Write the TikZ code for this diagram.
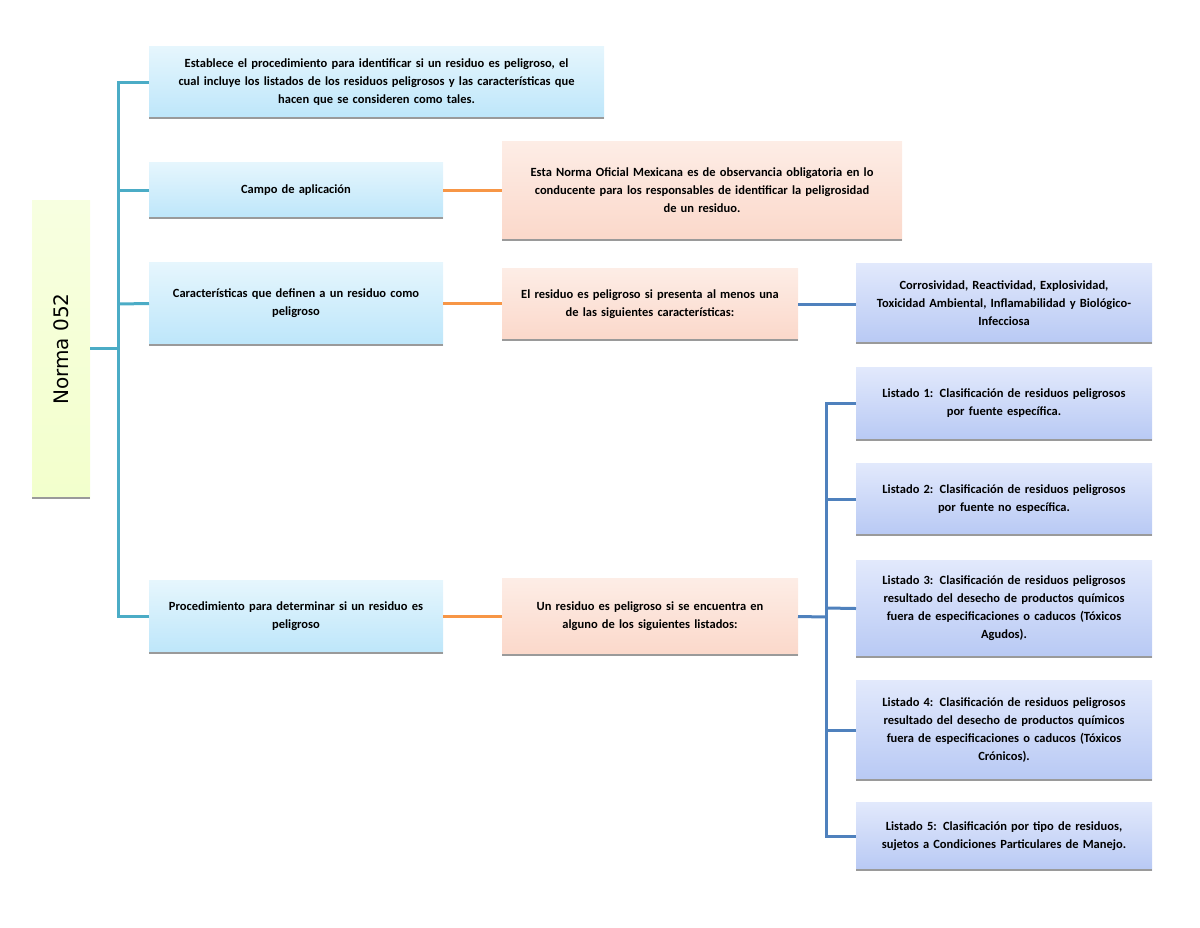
\documentclass[tikz,border=0pt]{standalone}
\usepackage{fontspec}
\setmainfont{Carlito}
\newfontfamily\normafont{DejaVu Sans}
\begin{document}
\begin{tikzpicture}[x=1pt,y=-1pt,
  bx/.style={draw=none,minimum width=#1,inner sep=0pt,align=center,font=\bfseries\fontsize{12.5}{18}\selectfont},
  lb/.style={top color=lbT,bottom color=lbB},
  ob/.style={top color=obT,bottom color=obB},
  pb/.style={top color=pbT,bottom color=pbB},
  teal/.style={draw=tealC,line width=3pt},
  orn/.style={draw=ornC,line width=3pt},
  blu/.style={draw=bluC,line width=3pt}]
\definecolor{lbT}{HTML}{E6F6FD}\definecolor{lbB}{HTML}{BDE6FA}
\definecolor{obT}{HTML}{FDEDE6}\definecolor{obB}{HTML}{FBD8CA}
\definecolor{pbT}{HTML}{E2E9FC}\definecolor{pbB}{HTML}{B8C9F4}
\definecolor{tealC}{HTML}{4BACC6}\definecolor{ornC}{HTML}{F79646}\definecolor{bluC}{HTML}{4F81BD}
\definecolor{shd}{HTML}{9A9A9A}
\useasboundingbox (0,0) rectangle (1200,927);
\newcommand{\bxx}[7]{% name,x1,y1,x2,y2,style,text
  \shade[#6] (#2,#3) rectangle (#4,#5);
  \draw[shd,line width=2.5pt] (#2,#5) -- (#4,#5);
  \node[bx=1pt,text width={#4-#2-6}] (#1) at ({(#2+#4)/2},{(#3+#5)/2}) {#7};
  \coordinate (#1-w) at (#2,{(#3+#5)/2});
  \coordinate (#1-e) at (#4,{(#3+#5)/2});
}
% Norma
\shade[top color=lime!12!white,bottom color=lime!20!white] (32,200) rectangle (90,498);
\draw[shd,line width=2pt] (32,498) -- (90,498);
\node[rotate=90,font=\normafont\fontsize{20}{24}\selectfont] (norma) at (61,349) {Norma 052};
\coordinate (norma-e) at (90,348);
\bxx{b1}{149}{46}{604}{118}{lb}{Establece el procedimiento para identificar si un residuo es peligroso, el\\ cual incluye los listados de los residuos peligrosos y las características que\\ hacen que se consideren como tales.}
\bxx{b2}{149}{162}{443}{218}{lb}{Campo de aplicación}
\bxx{b3}{149}{262}{443}{345}{lb}{Características que definen a un residuo como\\ peligroso}
\bxx{b4}{149}{580}{443}{653}{lb}{Procedimiento para determinar si un residuo es\\ peligroso}
\bxx{o1}{502}{141}{902}{240}{ob}{Esta Norma Oficial Mexicana es de observancia obligatoria en lo\\ conducente para los responsables de identificar la peligrosidad\\ de un residuo.}
\bxx{o2}{502}{268}{798}{340}{ob}{El residuo es peligroso si presenta al menos una\\ de las siguientes características:}
\bxx{o3}{502}{578}{798}{655}{ob}{Un residuo es peligroso si se encuentra en\\ alguno de los siguientes listados:}
\bxx{c1}{856}{263}{1152}{343}{pb}{Corrosividad, Reactividad, Explosividad,\\ Toxicidad Ambiental, Inflamabilidad y Biológico-\\ Infecciosa}
\bxx{l1}{856}{367}{1152}{440}{pb}{Listado 1: Clasificación de residuos peligrosos\\ por fuente específica.}
\bxx{l2}{856}{463}{1152}{535}{pb}{Listado 2: Clasificación de residuos peligrosos\\ por fuente no específica.}
\bxx{l3}{856}{560}{1152}{657}{pb}{Listado 3: Clasificación de residuos peligrosos\\ resultado del desecho de productos químicos\\ fuera de especificaciones o caducos (Tóxicos\\ Agudos).}
\bxx{l4}{856}{680}{1152}{780}{pb}{Listado 4: Clasificación de residuos peligrosos\\ resultado del desecho de productos químicos\\ fuera de especificaciones o caducos (Tóxicos\\ Crónicos).}
\bxx{l5}{856}{802}{1152}{870}{pb}{Listado 5: Clasificación por tipo de residuos,\\ sujetos a Condiciones Particulares de Manejo.}
% connectors
\draw[teal] (norma-e) -- (118,348);
\draw[teal] (b1-w) -| (118,348);
\draw[teal] (b2-w) -- (118,190);
\draw[teal] (b3-w) -- (118,304);
\draw[teal] (b4-w) -| (118,348);
\draw[orn] (b2-e) -- (o1-w |- b2-e);
\draw[orn] (b3-e) -- (o2-w |- b3-e);
\draw[orn] (b4-e) -- (o3-w |- b4-e);
\draw[blu] (o2-e) -- (c1-w |- o2-e);
\draw[blu] (o3-e) -- (826,617);
\draw[blu] (l1-w) -| (826,617);
\draw[blu] (l5-w) -| (826,617);
\draw[blu] (l2-w) -- (826,499);
\draw[blu] (l3-w) -- (826,608);
\draw[blu] (l4-w) -- (826,730);
\end{tikzpicture}
\end{document}
